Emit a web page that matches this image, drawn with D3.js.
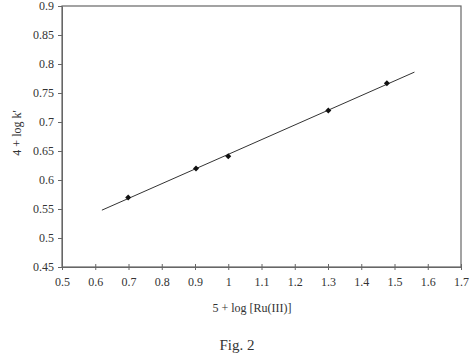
<!DOCTYPE html>
<html><head><meta charset="utf-8">
<script src="https://cdn.jsdelivr.net/npm/d3@7"></script>
<style>body{margin:0;background:#fff}svg{display:block}</style>
</head><body>
<script>
const xValues = [0.699, 0.903, 1.0, 1.301, 1.477];
const yValues = [0.570, 0.620, 0.641, 0.720, 0.767];
const fitX = [0.62, 1.56];
const fitY = [0.548, 0.786];
const xTicks = [0.5,0.6,0.7,0.8,0.9,1,1.1,1.2,1.3,1.4,1.5,1.6,1.7];
const yTicks = [0.45,0.5,0.55,0.6,0.65,0.7,0.75,0.8,0.85,0.9];

const W = 474, H = 358;
const svg = d3.select("body").append("svg").attr("width", W).attr("height", H);
const x = d3.scaleLinear().domain([0.5, 1.7]).range([62, 461]);
const y = d3.scaleLinear().domain([0.45, 0.9]).range([267, 6]);
const font = "Liberation Serif, Times New Roman, serif";
const axisColor = "#666";

// frame
svg.append("rect").attr("x", 62).attr("y", 6).attr("width", 399).attr("height", 261)
  .attr("fill", "none").attr("stroke", axisColor).attr("stroke-width", 1.2);

const xAxis = svg.append("g").attr("transform", "translate(0,267)")
  .call(d3.axisBottom(x).tickValues(xTicks).tickSize(3).tickSizeOuter(0)
    .tickFormat(d => d3.format("")(+d.toFixed(1))));
xAxis.select(".domain").attr("stroke", axisColor);
xAxis.selectAll(".tick line").attr("stroke", axisColor).attr("y1", -3);
xAxis.selectAll("text").attr("font-family", font).attr("font-size", 12).attr("fill", "#333").attr("dy", "1.1em");

const yAxis = svg.append("g").attr("transform", "translate(62,0)")
  .call(d3.axisLeft(y).tickValues(yTicks).tickSize(4).tickSizeOuter(0)
    .tickFormat(d => d3.format("")(+d.toFixed(2))));
yAxis.select(".domain").attr("stroke", axisColor);
yAxis.selectAll(".tick line").attr("stroke", axisColor);
yAxis.selectAll("text").attr("font-family", font).attr("font-size", 12).attr("fill", "#333").attr("x", -8);

// fit line
svg.append("line")
  .attr("x1", x(fitX[0])).attr("y1", y(fitY[0]))
  .attr("x2", x(fitX[1])).attr("y2", y(fitY[1]))
  .attr("stroke", "#333").attr("stroke-width", 1);

// markers (square diamonds)
svg.selectAll(".pt").data(xValues.map((v, i) => [v, yValues[i]])).enter()
  .append("path").attr("class", "pt")
  .attr("transform", d => `translate(${x(d[0])},${y(d[1])}) rotate(45)`)
  .attr("d", d3.symbol().type(d3.symbolSquare).size(18))
  .attr("fill", "#111");

// labels
svg.append("text").attr("x", 252).attr("y", 312).attr("text-anchor", "middle")
  .attr("font-family", font).attr("font-size", 12).attr("fill", "#333")
  .text("5 + log [Ru(III)]");
svg.append("text").attr("transform", "translate(21,133) rotate(-90)").attr("text-anchor", "middle")
  .attr("font-family", font).attr("font-size", 12).attr("fill", "#333")
  .text("4 + log k'");
svg.append("text").attr("x", 237).attr("y", 350).attr("text-anchor", "middle")
  .attr("font-family", font).attr("font-size", 15).attr("fill", "#333")
  .text("Fig. 2");
</script>
</body></html>
